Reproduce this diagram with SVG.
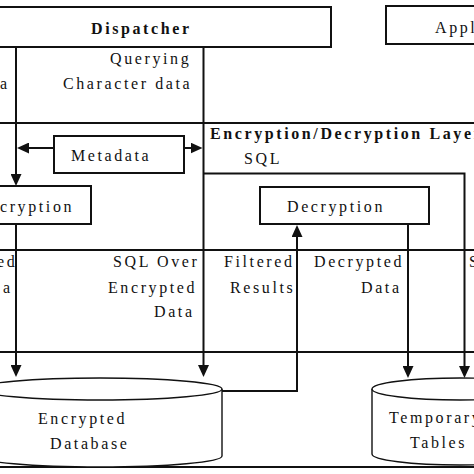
<svg xmlns="http://www.w3.org/2000/svg" width="474" height="474" viewBox="0 0 474 474">
<style>
.t{font-family:"Liberation Serif","Times New Roman",serif;font-size:16px;letter-spacing:2.6px;fill:#111}
.b{font-weight:bold}
.box{fill:#fff;stroke:#111;stroke-width:2}
.ln{fill:none;stroke:#111;stroke-width:2}
.cyl{fill:#fff;stroke:#111;stroke-width:1.4}
</style>
<defs>
<marker id="ah" markerUnits="userSpaceOnUse" markerWidth="12" markerHeight="11" refX="8" refY="5.5" orient="auto">
<path d="M0,0 L12,5.5 L0,11 z" fill="#111"/>
</marker>
</defs>
<rect width="474" height="474" fill="#fff"/>
<g id="layers">
<line class="ln" x1="0" y1="123" x2="474" y2="123"/>
<line class="ln" x1="0" y1="250" x2="474" y2="250"/>
<line class="ln" x1="0" y1="352" x2="474" y2="352"/>
<line class="ln" x1="0" y1="467" x2="474" y2="467"/>
<text class="t b" x="210" y="139">Encryption/Decryption Layer</text>
</g>
<g id="dispatcher">
<rect class="box" x="-10" y="7" width="341" height="40"/>
<text class="t b" x="91" y="34">Dispatcher</text>
</g>
<g id="application">
<rect class="box" x="386" y="6" width="100" height="38"/>
<text class="t" x="435" y="33">Appl</text>
</g>
<g id="encrypted-db">
<path class="cyl" d="M-22,389 L-22,456 A122,11 0 0 0 222,456 L222,389"/>
<ellipse class="cyl" cx="100" cy="389" rx="122" ry="11"/>
<text class="t" x="38" y="424">Encrypted</text>
<text class="t" x="50" y="449">Database</text>
</g>
<g id="temp-tables">
<path class="cyl" d="M372,389 L372,454 A88,11 0 0 0 548,454 L548,389"/>
<ellipse class="cyl" cx="460" cy="389" rx="88" ry="11"/>
<text class="t" x="389" y="423">Temporary</text>
<text class="t" x="410" y="448">Tables</text>
</g>
<g id="connectors">
<line class="ln" x1="16" y1="47" x2="16" y2="182" marker-end="url(#ah)"/>
<line class="ln" x1="16" y1="224" x2="16" y2="373" marker-end="url(#ah)"/>
<line class="ln" x1="203.5" y1="47" x2="203.5" y2="373" marker-end="url(#ah)"/>
<line class="ln" x1="54" y1="148" x2="21" y2="148" marker-end="url(#ah)"/>
<line class="ln" x1="184" y1="148" x2="198.5" y2="148" marker-end="url(#ah)"/>
<polyline class="ln" points="203.5,173.5 464.5,173.5 464.5,374" marker-end="url(#ah)"/>
<polyline class="ln" points="222,391 297,391 297,229" marker-end="url(#ah)"/>
<line class="ln" x1="408" y1="224" x2="408" y2="374" marker-end="url(#ah)"/>
</g>
<g id="metadata">
<rect class="box" x="54" y="136" width="130" height="37"/>
<text class="t" x="71" y="161">Metadata</text>
</g>
<g id="encryption">
<rect class="box" x="-10" y="186" width="101" height="38"/>
<text class="t" x="-23" y="212">Encryption</text>
</g>
<g id="decryption">
<rect class="box" x="260" y="187" width="169" height="37"/>
<text class="t" x="287" y="212">Decryption</text>
</g>
<g id="labels">
<text class="t" x="110" y="64">Querying</text>
<text class="t" x="63" y="89">Character data</text>
<text class="t" x="0" y="89">a</text>
<text class="t" x="244" y="164">SQL</text>
<text class="t" x="113" y="267">SQL Over</text>
<text class="t" x="108" y="293">Encrypted</text>
<text class="t" x="154" y="317">Data</text>
<text class="t" x="224" y="267">Filtered</text>
<text class="t" x="230" y="293">Results</text>
<text class="t" x="314" y="267">Decrypted</text>
<text class="t" x="361" y="293">Data</text>
<text class="t" x="-3" y="267">ed</text>
<text class="t" x="3" y="293">a</text>
<text class="t" x="469" y="267">S</text>
</g>
</svg>
